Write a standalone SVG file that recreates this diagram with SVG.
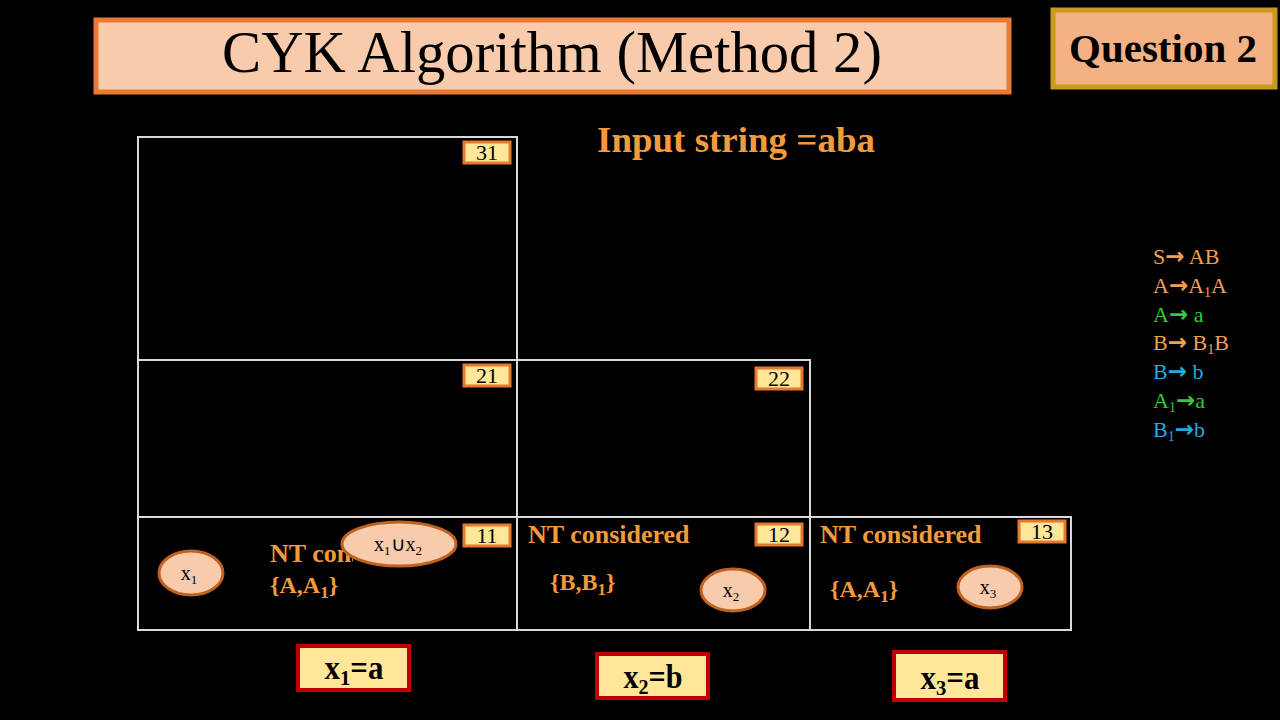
<svg xmlns="http://www.w3.org/2000/svg" width="1280" height="720" viewBox="0 0 1280 720">
<defs>
<style>
.grid{fill:none;stroke:#d9d9d9;stroke-width:2}
.lbl rect{fill:#ffe699;stroke:#e5792f;stroke-width:3}
.lbl text{font-family:"Liberation Serif",serif;font-size:22px;fill:#000;text-anchor:middle}
.ell{fill:#f8cbad;stroke:#c0621e;stroke-width:3}
.et{font-family:"Liberation Serif",serif;font-size:20px;fill:#000;text-anchor:middle}
.nt{font-family:"Liberation Serif",serif;font-weight:bold;font-size:26px;fill:#f39a3c}
.set{font-family:"Liberation Serif",serif;font-weight:bold;font-size:24px;fill:#f39a3c}
.gr{font-family:"Liberation Serif",serif;font-size:22px}
.ar{font-family:"DejaVu Sans",sans-serif;font-weight:bold;font-size:23px}
.or{fill:#f0a050}.gn{fill:#33cc33}.bl{fill:#2aa6e0}
.xb rect{fill:#ffe699;stroke:#c00000;stroke-width:4}
.xb text{font-family:"Liberation Serif",serif;font-weight:bold;font-size:33px;fill:#000;text-anchor:middle}
</style>
<clipPath id="clip11"><rect x="138" y="517" width="215" height="113"/></clipPath>
</defs>
<rect x="0" y="0" width="1280" height="720" fill="#000"/>

<g id="title">
<rect x="96" y="20" width="913" height="72" fill="#f8cbad" stroke="#e97a35" stroke-width="5"/>
<text x="552" y="72" font-family="Liberation Serif,serif" font-size="59" fill="#000" text-anchor="middle" textLength="660" lengthAdjust="spacingAndGlyphs">CYK Algorithm (Method 2)</text>
</g>

<g id="question">
<rect x="1053" y="10" width="222" height="77" fill="#f4b183" stroke="#c89a1e" stroke-width="5"/>
<text x="1163" y="62" font-family="Liberation Serif,serif" font-weight="bold" font-size="41" fill="#000" text-anchor="middle">Question 2</text>
</g>

<g id="input">
<text x="736" y="152" font-family="Liberation Serif,serif" font-weight="bold" font-size="35" fill="#f39a3c" text-anchor="middle" textLength="278" lengthAdjust="spacingAndGlyphs">Input string =aba</text>
</g>

<g id="grammar" class="gr">
<text x="1153" y="264" class="or">S<tspan class="ar">→</tspan> AB</text>
<text x="1153" y="293" class="or">A<tspan class="ar">→</tspan>A<tspan font-size="14" dy="4">1</tspan><tspan dy="-4">A</tspan></text>
<text x="1153" y="322" class="gn">A<tspan class="ar">→</tspan> a</text>
<text x="1153" y="350" class="or">B<tspan class="ar">→</tspan> B<tspan font-size="14" dy="4">1</tspan><tspan dy="-4">B</tspan></text>
<text x="1153" y="379" class="bl">B<tspan class="ar">→</tspan> b</text>
<text x="1153" y="408" class="gn">A<tspan font-size="14" dy="4">1</tspan><tspan class="ar" dy="-4">→</tspan>a</text>
<text x="1153" y="437" class="bl">B<tspan font-size="14" dy="4">1</tspan><tspan class="ar" dy="-4">→</tspan>b</text>
</g>

<g id="cell31">
<rect class="grid" x="138" y="137" width="379" height="223"/>
<g class="lbl"><rect x="464" y="142" width="46" height="21"/><text x="487" y="160">31</text></g>
</g>

<g id="cell21">
<rect class="grid" x="138" y="360" width="379" height="157"/>
<g class="lbl"><rect x="464" y="365" width="46" height="21"/><text x="487" y="383">21</text></g>
</g>

<g id="cell22">
<rect class="grid" x="517" y="360" width="293" height="157"/>
<g class="lbl"><rect x="756" y="368" width="46" height="21"/><text x="779" y="386">22</text></g>
</g>

<g id="cell11">
<rect class="grid" x="138" y="517" width="379" height="113"/>
<text class="nt" x="270" y="562" clip-path="url(#clip11)">NT considered</text>
<text class="set" x="270" y="593">{A,A<tspan font-size="17" dy="5">1</tspan><tspan dy="-5">}</tspan></text>
<g class="lbl"><rect x="464" y="525" width="46" height="21"/><text x="487" y="543">11</text></g>
<ellipse class="ell" cx="191" cy="573" rx="32" ry="22"/>
<text class="et" x="189" y="580">x<tspan font-size="13" dy="4">1</tspan></text>
<ellipse class="ell" cx="399" cy="544" rx="57" ry="22"/>
<text class="et" x="398" y="551">x<tspan font-size="13" dy="4">1</tspan><tspan dy="-4">∪x</tspan><tspan font-size="13" dy="4">2</tspan></text>
</g>

<g id="cell12">
<rect class="grid" x="517" y="517" width="293" height="113"/>
<text class="nt" x="528" y="543">NT considered</text>
<text class="set" x="550" y="590">{B,B<tspan font-size="17" dy="5">1</tspan><tspan dy="-5">}</tspan></text>
<g class="lbl"><rect x="756" y="524" width="46" height="21"/><text x="779" y="542">12</text></g>
<ellipse class="ell" cx="733" cy="590" rx="32" ry="21"/>
<text class="et" x="731" y="597">x<tspan font-size="13" dy="4">2</tspan></text>
</g>

<g id="cell13">
<rect class="grid" x="810" y="517" width="261" height="113"/>
<text class="nt" x="820" y="543">NT considered</text>
<text class="set" x="830" y="597">{A,A<tspan font-size="17" dy="5">1</tspan><tspan dy="-5">}</tspan></text>
<g class="lbl"><rect x="1019" y="521" width="46" height="21"/><text x="1042" y="539">13</text></g>
<ellipse class="ell" cx="990" cy="587" rx="32" ry="21"/>
<text class="et" x="988" y="594">x<tspan font-size="13" dy="4">3</tspan></text>
</g>

<g id="x1box" class="xb">
<rect x="298" y="646" width="111" height="44"/>
<text x="354" y="679" textLength="59" lengthAdjust="spacingAndGlyphs">x<tspan font-size="22" dy="6">1</tspan><tspan dy="-6">=a</tspan></text>
</g>
<g id="x2box" class="xb">
<rect x="597" y="654" width="111" height="44"/>
<text x="653" y="688" textLength="59" lengthAdjust="spacingAndGlyphs">x<tspan font-size="22" dy="6">2</tspan><tspan dy="-6">=b</tspan></text>
</g>
<g id="x3box" class="xb">
<rect x="894" y="652" width="111" height="48"/>
<text x="950" y="689" textLength="59" lengthAdjust="spacingAndGlyphs">x<tspan font-size="22" dy="6">3</tspan><tspan dy="-6">=a</tspan></text>
</g>

<g id="connectors"></g>
</svg>
